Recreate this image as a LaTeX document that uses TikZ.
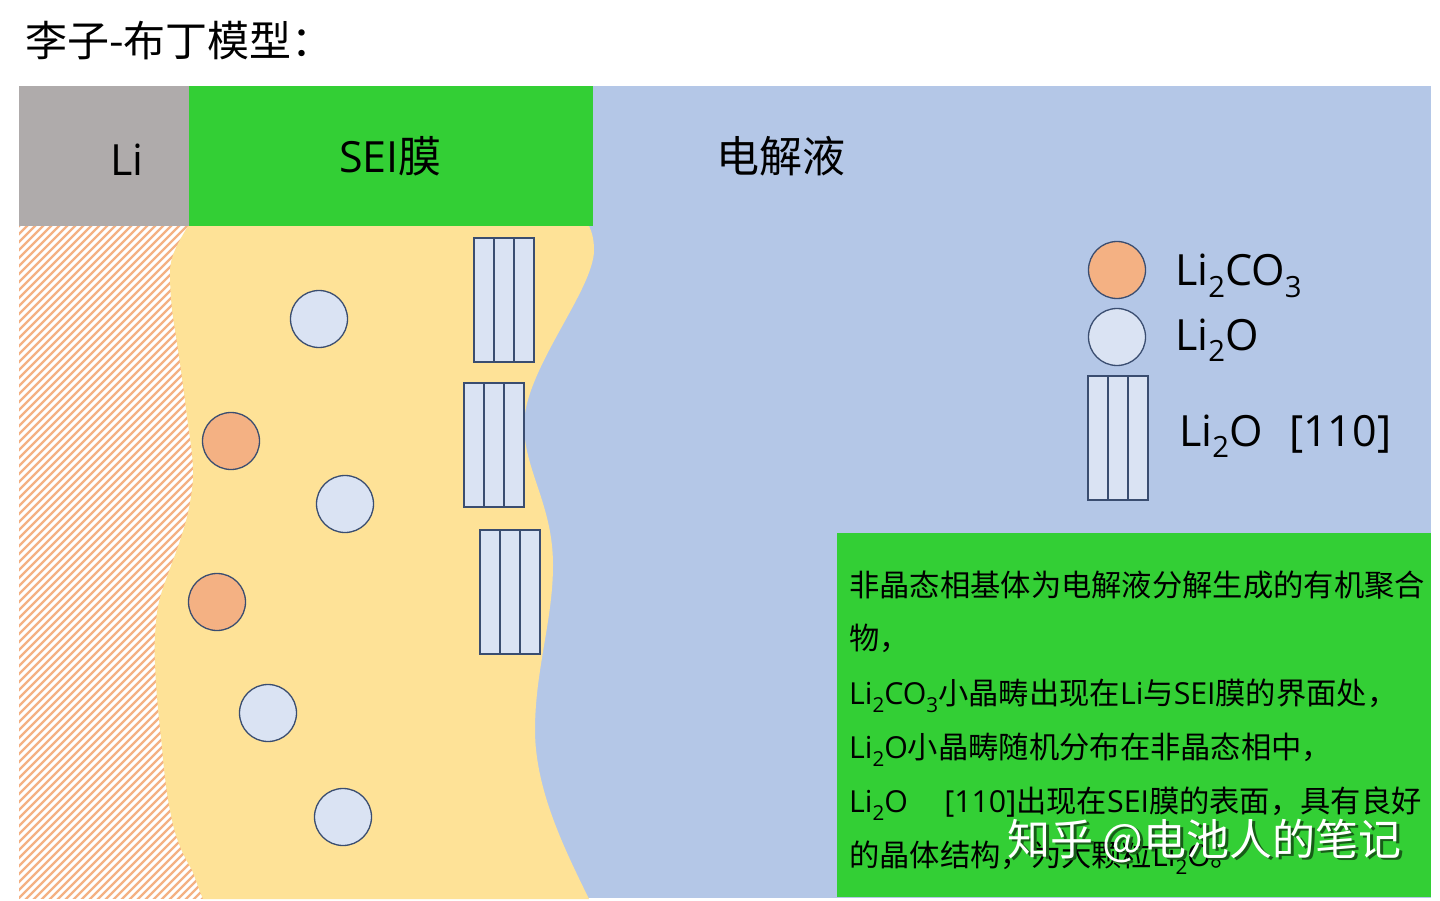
\documentclass[tikz,border=0pt]{standalone}
\usepackage{fontspec}
\usepackage{graphicx}
\setmainfont{Open Sans}
\newfontfamily\cjk{Noto Sans CJK SC}
\newcommand{\lo}[1]{\raisebox{-.27em}{\scalebox{.68}{#1}}}
\newcommand{\fs}[1]{\fontsize{#1}{#1}\selectfont}
\definecolor{elec}{HTML}{B4C7E7}
\definecolor{seigreen}{HTML}{33CF35}
\definecolor{ligray}{HTML}{AFABAB}
\definecolor{amorph}{HTML}{FEE297}
\definecolor{orangeball}{HTML}{F4B183}
\definecolor{paleblue}{HTML}{DAE3F3}
\definecolor{edge}{HTML}{3A4D70}
\tikzset{
  x=1pt,y=-1pt,
  ball/.style={circle,draw=edge,line width=1.3pt,minimum size=57pt,inner sep=0pt},
  li2o/.style={ball,fill=paleblue},
  carb/.style={ball,fill=orangeball},
  cell/.style={draw=edge,line width=1.3pt,fill=paleblue},
  lbl/.style={anchor=base west,inner sep=0pt,text=black,font=\fs{43}},
  body/.style={anchor=base west,inner sep=0pt,text=black,font=\fs{30.3}}
}
\newcommand{\crystal}[2]{%
  \draw[cell] (#1,#2) rectangle ++(60,124);
  \draw[cell] (#1+20,#2) -- ++(0,124) (#1+40,#2) -- ++(0,124);
}
\begin{document}
\begin{tikzpicture}
\useasboundingbox (0,0) rectangle (1440,901);
\fill[white] (0,0) rectangle (1440,901);
% electrolyte background
\fill[elec] (19,86) rectangle (1431,898);
% lithium hatched region
\fill[white] (19,226) rectangle (300,898);
\begin{scope}
  \clip (19,226) rectangle (300,898);
  \foreach \k in {245,253,...,1205}
    \draw[orangeball,line width=2.3pt] (\k,0) -- (\k-1000,1000);
\end{scope}
% amorphous SEI matrix
\fill[amorph] (188,226)
  .. controls (178,243) and (170,256) .. (170,272)
  .. controls (170,295) and (172,312) .. (175,330)
  .. controls (179,355) and (182,378) .. (185,400)
  .. controls (188,430) and (194,455) .. (193,480)
  .. controls (192,492) and (190,503) .. (188,513)
  .. controls (184,530) and (178,547) .. (172,563)
  .. controls (166,580) and (159,596) .. (157,613)
  .. controls (155,630) and (154,647) .. (155,663)
  .. controls (156,692) and (159,720) .. (162,747)
  .. controls (164,772) and (167,798) .. (172,820)
  .. controls (176,840) and (184,857) .. (192,870)
  .. controls (196,880) and (199,890) .. (203,899)
  -- (589,899)
  .. controls (565,850) and (535,790) .. (535,730)
  .. controls (535,670) and (553,620) .. (553,565)
  .. controls (553,505) and (524,470) .. (524,425)
  .. controls (524,370) and (594,290) .. (594,250)
  .. controls (594,240) and (592,232) .. (589,226)
  -- cycle;
% header bars
\fill[ligray] (19,86) rectangle (189,226);
\fill[seigreen] (189,86) rectangle (593,226);
% title and headers
\node[lbl,font=\fs{42}] (title) at (25,56.5) {\cjk 李子-布丁模型：};
\node[lbl] (li) at (110,176) {Li};
\node[lbl] (sei) at (339,172.5) {SEI\cjk 膜};
\node[lbl] (el) at (716,173) {\cjk 电解液};
% crystals
\crystal{474}{238}
\crystal{464}{383}
\crystal{480}{530}
\crystal{1088}{376}
% balls
\node[li2o] (a1) at (319,319) {};
\node[carb] (c1) at (231,441) {};
\node[li2o] (a2) at (345,504) {};
\node[carb] (c2) at (217,602) {};
\node[li2o] (a3) at (268,713) {};
\node[li2o] (a4) at (343,817) {};
% legend
\node[carb] (lc) at (1117,270) {};
\node[li2o] (lo) at (1117,337) {};
\node[lbl] (lct) at (1175,286) {Li\lo{2}CO\lo{3}};
\node[lbl] (lot) at (1175,350) {Li\lo{2}O};
\node[lbl] (lxt) at (1179,446) {Li\lo{2}O\hspace{.62em}[110]};
% text box
\fill[seigreen] (837,533) rectangle (1431,897);
\node[body] (t1) at (849,596) {\cjk 非晶态相基体为电解液分解生成的有机聚合};
\node[body] (t2) at (849,649) {\cjk 物，};
\node[body] (t3) at (849,704) {Li\lo{2}CO\lo{3}\cjk 小晶畴出现在\normalfont Li\cjk 与\normalfont SEI\cjk 膜的界面处，};
\node[body] (t4) at (849,758) {Li\lo{2}O\cjk 小晶畴随机分布在非晶态相中，};
\node[body] (t5) at (849,812) {Li\lo{2}O\hspace{1.2em}[110]\cjk 出现在\normalfont SEI\cjk 膜的表面，具有良好};
\node[body] (t6) at (849,866) {\cjk 的晶体结构，为大颗粒\normalfont Li\lo{2}O\cjk 。};
% watermark
\node[lbl,font=\fs{43},text=black!55!seigreen] (wms) at (1010,857) {\cjk 知乎 @电池人的笔记};
\node[lbl,font=\fs{43},text=white] (wm) at (1007,855) {\cjk 知乎 @电池人的笔记};
\end{tikzpicture}
\end{document}
